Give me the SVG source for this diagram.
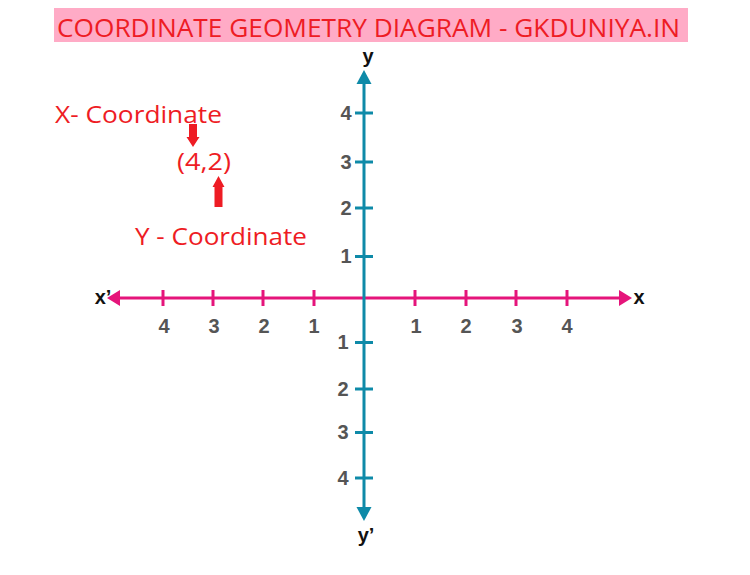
<svg xmlns="http://www.w3.org/2000/svg" width="750" height="575" viewBox="0 0 750 575">
<style>
.red{fill:#ee1c24;font-family:"Open Sans","Liberation Sans",sans-serif;}
.num{fill:#555555;font-family:"Liberation Sans",Arial,sans-serif;font-weight:bold;font-size:20px;text-anchor:middle;}
.axl{fill:#111111;font-family:"Liberation Sans",Arial,sans-serif;font-weight:bold;font-size:20px;text-anchor:middle;}
.xax{stroke:#e5157b;stroke-width:3;fill:none;}
.yax{stroke:#0e8aa8;stroke-width:3;fill:none;}
</style>
<rect width="750" height="575" fill="#ffffff"/>
<g id="title">
<rect x="54" y="8" width="634" height="34" fill="#ffabc6"/>
<text class="red" x="57" y="36.5" font-size="26" textLength="623" lengthAdjust="spacingAndGlyphs">COORDINATE GEOMETRY DIAGRAM - GKDUNIYA.IN</text>
</g>
<g id="connectors">
<line class="xax" x1="118" y1="298" x2="622" y2="298"/>
<polygon points="107,298 120,290 120,306" fill="#e5157b"/>
<polygon points="632,298 619,290 619,306" fill="#e5157b"/>
<g class="xax">
<line x1="163" y1="290" x2="163" y2="306"/>
<line x1="213" y1="290" x2="213" y2="306"/>
<line x1="263" y1="290" x2="263" y2="306"/>
<line x1="314" y1="290" x2="314" y2="306"/>
<line x1="415" y1="290" x2="415" y2="306"/>
<line x1="466" y1="290" x2="466" y2="306"/>
<line x1="516" y1="290" x2="516" y2="306"/>
<line x1="567" y1="290" x2="567" y2="306"/>
</g>
<line class="yax" x1="364" y1="82" x2="364" y2="510"/>
<polygon points="364,70 356.5,84 371.5,84" fill="#0e8aa8"/>
<polygon points="364,521 356.5,507 371.5,507" fill="#0e8aa8"/>
<g class="yax">
<line x1="355" y1="113" x2="373" y2="113"/>
<line x1="355" y1="162" x2="373" y2="162"/>
<line x1="355" y1="208" x2="373" y2="208"/>
<line x1="355" y1="256.5" x2="373" y2="256.5"/>
<line x1="355" y1="342.5" x2="373" y2="342.5"/>
<line x1="355" y1="389" x2="373" y2="389"/>
<line x1="355" y1="432.5" x2="373" y2="432.5"/>
<line x1="355" y1="478" x2="373" y2="478"/>
</g>
<g id="red-arrows" fill="#ee1c24">
<polygon points="189,124 197,124 197,137 199.5,137 193,147 186.5,137 189,137"/>
<polygon points="214.5,207 222.5,207 222.5,187 224.5,187 218.5,176 212.5,187 214.5,187"/>
</g>
</g>
<g id="x-labels">
<text class="num" x="164" y="333">4</text>
<text class="num" x="214" y="333">3</text>
<text class="num" x="264" y="333">2</text>
<text class="num" x="314" y="333">1</text>
<text class="num" x="416" y="333">1</text>
<text class="num" x="466" y="333">2</text>
<text class="num" x="517" y="333">3</text>
<text class="num" x="567" y="333">4</text>
</g>
<g id="y-labels">
<text class="num" x="346" y="120">4</text>
<text class="num" x="346" y="169">3</text>
<text class="num" x="346" y="215">2</text>
<text class="num" x="346" y="263">1</text>
<text class="num" x="343" y="349">1</text>
<text class="num" x="343" y="396">2</text>
<text class="num" x="343" y="439">3</text>
<text class="num" x="343" y="485">4</text>
</g>
<g id="axis-names">
<text class="axl" x="368" y="63">y</text>
<text class="axl" x="366" y="542">y’</text>
<text class="axl" x="103" y="304">x’</text>
<text class="axl" x="639" y="304">x</text>
</g>
<g id="x-coordinate"><text class="red" x="55" y="123" font-size="23" textLength="167" lengthAdjust="spacingAndGlyphs">X- Coordinate</text></g>
<g id="point"><text class="red" x="177" y="169.5" font-size="23" textLength="54" lengthAdjust="spacingAndGlyphs">(4,2)</text></g>
<g id="y-coordinate"><text class="red" x="135" y="244.5" font-size="23" textLength="172" lengthAdjust="spacingAndGlyphs">Y - Coordinate</text></g>
</svg>
